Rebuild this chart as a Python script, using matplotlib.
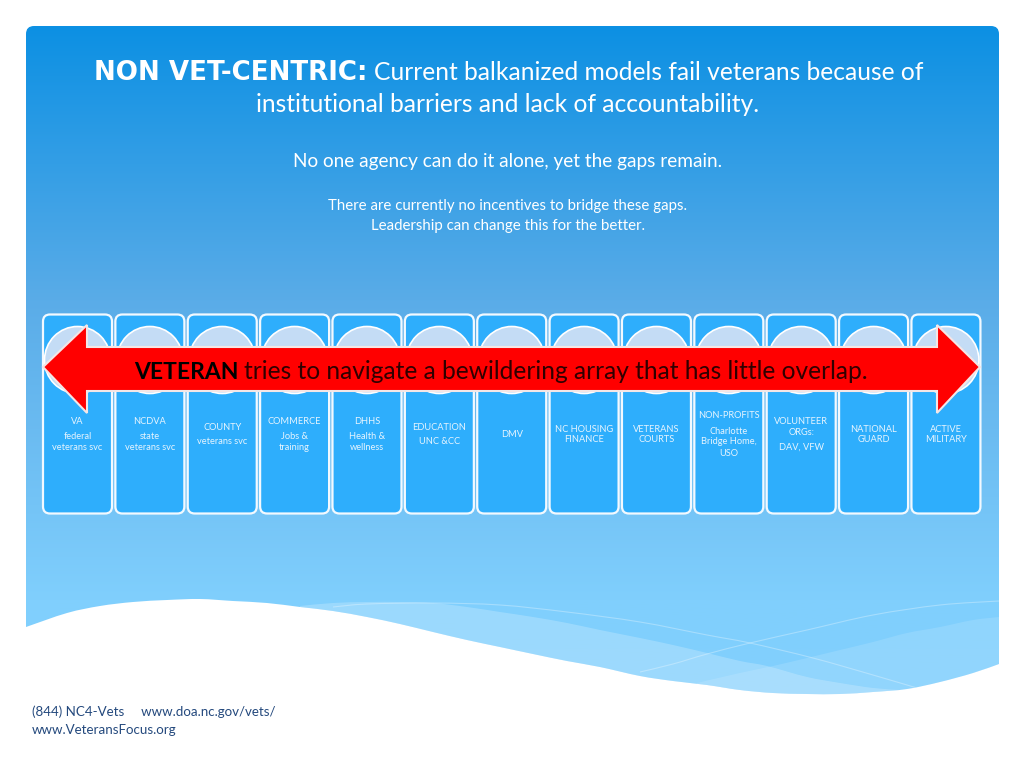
import numpy as np
import matplotlib
matplotlib.use('Agg')
import matplotlib.pyplot as plt
from matplotlib.path import Path
from matplotlib.patches import PathPatch, FancyBboxPatch, Ellipse, Polygon

# slide text
title_bold = 'NON VET-CENTRIC:'
title_rest = 'Current balkanized models fail veterans because of'
title_line2 = 'institutional barriers and lack of accountability.'
sub_line = 'No one agency can do it alone, yet the gaps remain.'
note_lines = ['There are currently no incentives to bridge these gaps.',
              'Leadership can change this for the better.']
arrow_bold = 'VETERAN'
arrow_rest = 'tries to navigate a bewildering array that has little overlap.'
footer_lines = ['(844) NC4-Vets     www.doa.nc.gov/vets/', 'www.VeteransFocus.org']

# one entry per box, inner lists are paragraphs
box_labels = [
    [['VA'], ['federal', 'veterans svc']],
    [['NCDVA'], ['state', 'veterans svc']],
    [['COUNTY'], ['veterans svc']],
    [['COMMERCE'], ['Jobs &', 'training']],
    [['DHHS'], ['Health &', 'wellness']],
    [['EDUCATION'], ['UNC &CC']],
    [['DMV']],
    [['NC HOUSING', 'FINANCE']],
    [['VETERANS', 'COURTS']],
    [['NON-PROFITS'], ['Charlotte', 'Bridge Home,', 'USO']],
    [['VOLUNTEER', 'ORGs:'], ['DAV, VFW']],
    [['NATIONAL', 'GUARD']],
    [['ACTIVE', 'MILITARY']],
]

# wave outlines (pixels)
wave_x = [26, 67, 100, 133, 167, 200, 233, 267, 300, 333, 367, 400, 433, 467, 500, 533, 567, 600,
          640, 673, 707, 740, 773, 807, 840, 873, 907, 940, 973, 999]
wave_y = [627, 613, 606, 602, 600, 599, 601, 603, 607, 611, 617, 624, 632, 640, 647, 654, 661, 667,
          676, 681, 685, 690, 693, 694, 694, 692, 689, 682, 673, 664]
band1_x = [300, 333, 367, 400, 433, 467, 500, 533, 567, 600, 640, 673, 707, 740, 767, 807, 840, 873, 900]
band1_y = [606, 603, 602, 602, 603, 607, 612, 617, 623, 630, 638, 645, 653, 661, 666, 677, 683, 688, 690]
band2_x = [697, 740, 773, 807, 840, 873, 907, 940, 973, 999]
band2_y = [683, 673, 666, 658, 650, 642, 633, 627, 620, 617]
line1_x = [333, 367, 433, 500, 567, 640, 707, 750, 813, 873, 917]
line1_y = [607, 604, 603, 605, 612, 622, 635, 643, 658, 675, 688]
line2_x = [640, 673, 707, 750, 807, 873, 940, 999]
line2_y = [672, 664, 654, 643, 630, 615, 605, 601]


def smooth(xs, ys):
    # catmull-rom through the points, as bezier segments
    p = np.column_stack([xs, ys]).astype(float)
    verts = [p[0]]
    codes = [Path.MOVETO]
    for i in range(len(p) - 1):
        p0 = p[max(i - 1, 0)]
        p3 = p[min(i + 2, len(p) - 1)]
        verts += [p[i] + (p[i + 1] - p0) / 6, p[i + 1] - (p3 - p[i]) / 6, p[i + 1]]
        codes += [Path.CURVE4] * 3
    return verts, codes


body_font = ['Lato', 'DejaVu Sans']
fig = plt.figure(figsize=(10.24, 7.68), dpi=100)
ax = fig.add_axes([0, 0, 1, 1])
ax.set_xlim(0, 1024)
ax.set_ylim(768, 0)
ax.axis('off')

# panel outline: rounded top, wave along the bottom
r = 8
verts = [(26, 627), (26, 26 + r), (26, 26), (26 + r, 26), (991, 26), (999, 26), (999, 26 + r), (999, 664)]
codes = [Path.MOVETO, Path.LINETO, Path.CURVE3, Path.CURVE3, Path.LINETO, Path.CURVE3, Path.CURVE3, Path.LINETO]
wv, wc = smooth(wave_x[::-1], wave_y[::-1])
verts += [tuple(v) for v in wv[1:]] + [(26, 627)]
codes += wc[1:] + [Path.CLOSEPOLY]
panel = PathPatch(Path(verts, codes), facecolor='none', edgecolor='none')
ax.add_patch(panel)

stops_y = np.array([26, 300, 600, 700])
stops = np.array([[12, 144, 227], [90, 172, 232], [128, 207, 253], [130, 208, 253]]) / 255
yy = np.linspace(26, 700, 400)
grad = np.stack([np.interp(yy, stops_y, stops[:, i]) for i in range(3)], axis=1)[:, None, :]
im = ax.imshow(grad, extent=(26, 999, 700, 26), aspect='auto', zorder=1)
im.set_clip_path(panel)
ax.set_xlim(0, 1024)
ax.set_ylim(768, 0)

# lighter bands and thin lines in the wave
b1v, b1c = smooth(band1_x, band1_y)
b2v, b2c = smooth(band2_x, band2_y)
for v, c, closing, alpha in [(b1v, b1c, [(910, 720), (300, 720)], 0.22),
                             (b2v, b2c, [(1010, 617), (1010, 720), (697, 720)], 0.13)]:
    vv = list(v) + closing + [v[0]]
    cc = list(c) + [Path.LINETO] * len(closing) + [Path.CLOSEPOLY]
    p = PathPatch(Path(vv, cc), facecolor='white', edgecolor='none', alpha=alpha, zorder=2)
    ax.add_patch(p)
    p.set_clip_path(panel)
for lx, ly in [(line1_x, line1_y), (line2_x, line2_y)]:
    v, c = smooth(lx, ly)
    p = PathPatch(Path(v, c), facecolor='none', edgecolor='white', lw=0.8, alpha=0.3, zorder=2)
    ax.add_patch(p)
    p.set_clip_path(panel)

# boxes
box_w = 69
pitch = 72.37
for i, paras in enumerate(box_labels):
    x0 = 43 + i * pitch
    cx = x0 + box_w / 2
    ax.add_patch(FancyBboxPatch((x0 + 6, 320.5), box_w - 12, 187,
                                boxstyle='round,pad=6,rounding_size=7',
                                facecolor='#2eaefc', edgecolor='#f2f9ff', lw=1.6, zorder=3))
    ax.add_patch(Ellipse((cx, 360), 66, 67, facecolor='#c4dcf5', edgecolor='white', lw=1.2, zorder=4))
    n_lines = sum(len(pp) for pp in paras)
    height = (n_lines - 1) * 11 + (len(paras) - 1) * 4
    y = 434.5 - height / 2
    for pp in paras:
        for line in pp:
            ax.text(cx, y, line, color='#e6f4fe', fontsize=6.7, family=body_font,
                    ha='center', va='center', zorder=5)
            y += 11
        y += 4

# double arrow
arrow_pts = [(43, 367), (87, 325), (87, 347), (937, 347), (937, 325), (980, 367),
             (937, 413), (937, 391), (87, 391), (87, 413)]
ax.add_patch(Polygon(arrow_pts, closed=True, facecolor='#ff0000', edgecolor='#f4e6e6',
                     lw=1.5, joinstyle='miter', zorder=6))


def mixed_line(left, y, bold, rest, bold_kw, rest_kw, gap, zorder=7):
    # bold lead-in followed by body text, on one baseline
    t = ax.text(left, y, bold, ha='left', va='baseline', zorder=zorder, **bold_kw)
    fig.canvas.draw()
    ext = t.get_window_extent().x1
    ax.text(ext + gap, y, rest, ha='left', va='baseline', zorder=zorder, **rest_kw)


mixed_line(94, 80, title_bold, title_rest,
           dict(color='white', fontsize=18.8, fontweight='bold', family=['DejaVu Sans']),
           dict(color='white', fontsize=17.7, family=body_font), 7)
ax.text(508, 104, title_line2, color='white', fontsize=17.75, family=body_font, ha='center', va='center', zorder=7)
ax.text(508, 161.5, sub_line, color='white', fontsize=13.7, family=body_font, ha='center', va='center', zorder=7)
for y, line in zip([206, 226], note_lines):
    ax.text(508, y, line, color='white', fontsize=10.8, family=body_font, ha='center', va='center', zorder=7)

mixed_line(134, 379, arrow_bold, arrow_rest,
           dict(color='black', fontsize=16.5, fontweight='bold', family=body_font),
           dict(color='#300000', fontsize=17.65, family=body_font), 6)

for y, line in zip([712, 730], footer_lines):
    ax.text(32, y, line, color='#24497d', fontsize=9.65, family=body_font, ha='left', va='center', zorder=7)

fig.savefig('out.png', dpi=100, facecolor='white')
